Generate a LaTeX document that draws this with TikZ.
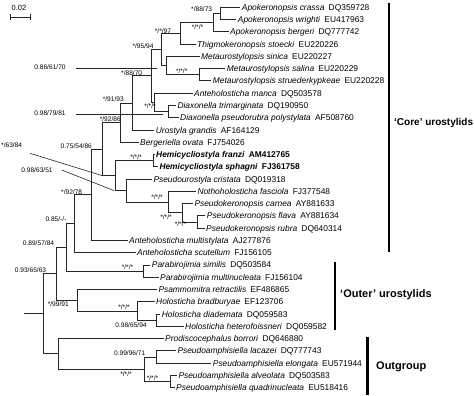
\documentclass[tikz,border=0pt]{standalone}
\usepackage{fontspec}
\setmainfont{Liberation Sans}
\begin{document}
\begin{tikzpicture}[x=1pt,y=-1pt,
  br/.style={line width=0.9pt, black!85, line cap=rect},
  leaf/.style={anchor=west, inner sep=0pt, font=\fontsize{8.4}{10}\selectfont, text height=6pt, text depth=0pt},
  supval/.style={inner sep=0pt, font=\fontsize{6.6}{8}\selectfont},
  ptr/.style={line width=0.6pt, black!85},
  cladelab/.style={anchor=west, inner sep=0pt, font=\bfseries\fontsize{11}{13}\selectfont},
  cbar/.style={line width=2.6pt}]
\useasboundingbox (0,0) rectangle (474,396);
\newcommand{\acc}{\hspace{0.5em}}
% leaves
\node[leaf] (l1) at (241.7,7.30) {\textit{Apokeronopsis crassa}\acc DQ359728};
\node[leaf] (l2) at (237.7,19.57) {\textit{Apokeronopsis wrighti}\acc EU417963};
\node[leaf] (l3) at (230,31.84) {\textit{Apokeronopsis bergeri}\acc DQ777742};
\node[leaf] (l4) at (197,44.11) {\textit{Thigmokeronopsis stoecki}\acc EU220226};
\node[leaf] (l5) at (201,56.38) {\textit{Metaurostylopsis sinica}\acc EU220227};
\node[leaf] (l6) at (226.7,68.65) {\textit{Metaurostylopsis salina}\acc EU220229};
\node[leaf] (l7) at (212.7,80.92) {\textit{Metaurostylopsis struederkypkeae}\acc EU220228};
\node[leaf] (l8) at (194,93.19) {\textit{Anteholosticha manca}\acc DQ503578};
\node[leaf] (l9) at (177.3,105.46) {\textit{Diaxonella trimarginata}\acc DQ190950};
\node[leaf] (l10) at (180,117.73) {\textit{Diaxonella pseudorubra polystylata}\acc AF508760};
\node[leaf] (l11) at (155.7,130.00) {\textit{Urostyla grandis}\acc AF164129};
\node[leaf] (l12) at (140,142.27) {\textit{Bergeriella ovata}\acc FJ754026};
\node[leaf] (l13) at (156,154.54) {\textbf{\textit{Hemicycliostyla franzi}\acc AM412765}};
\node[leaf] (l14) at (159.3,166.81) {\textbf{\textit{Hemicycliostyla sphagni}\acc FJ361758}};
\node[leaf] (l15) at (153.3,179.08) {\textit{Pseudourostyla cristata}\acc DQ019318};
\node[leaf] (l16) at (197.3,191.35) {\textit{Nothoholosticha fasciola}\acc FJ377548};
\node[leaf] (l17) at (194.3,203.62) {\textit{Pseudokeronopsis carnea}\acc AY881633};
\node[leaf] (l18) at (206.7,215.89) {\textit{Pseudokeronopsis flava}\acc AY881634};
\node[leaf] (l19) at (206,228.16) {\textit{Pseudokeronopsis rubra}\acc DQ640314};
\node[leaf] (l20) at (129,240.43) {\textit{Anteholosticha multistylata}\acc AJ277876};
\node[leaf] (l21) at (137,252.70) {\textit{Anteholosticha scutellum}\acc FJ156105};
\node[leaf] (l22) at (151.7,264.97) {\textit{Parabirojimia similis}\acc DQ503584};
\node[leaf] (l23) at (160,277.24) {\textit{Parabirojimia multinucleata}\acc FJ156104};
\node[leaf] (l24) at (158.3,289.51) {\textit{Psammomitra retractilis}\acc EF486865};
\node[leaf] (l25) at (156,301.78) {\textit{Holosticha bradburyae}\acc EF123706};
\node[leaf] (l26) at (161.7,314.05) {\textit{Holosticha diademata}\acc DQ059583};
\node[leaf] (l27) at (185,326.32) {\textit{Holosticha heterofoissneri}\acc DQ059582};
\node[leaf] (l28) at (165,338.59) {\textit{Prodiscocephalus borrori}\acc DQ646880};
\node[leaf] (l29) at (177.3,350.86) {\textit{Pseudoamphisiella lacazei}\acc DQ777743};
\node[leaf] (l30) at (212.7,363.13) {\textit{Pseudoamphisiella elongata}\acc EU571944};
\node[leaf] (l31) at (178.3,375.40) {\textit{Pseudoamphisiella alveolata}\acc DQ503583};
\node[leaf] (l32) at (176,387.67) {\textit{Pseudoamphisiella quadrinucleata}\acc EU518416};
% internal nodes
\coordinate (ncrw) at (220,13.44);
\coordinate (napo) at (213.3,22.64);
\coordinate (napot) at (180,33.37);
\coordinate (nss) at (199,74.79);
\coordinate (nmeta) at (166.7,65.58);
\coordinate (n161) at (161.7,49.48);
\coordinate (ndiax) at (168.3,111.6);
\coordinate (nmd) at (154,102.4);
\coordinate (n151) at (151.7,75.94);
\coordinate (n132) at (132.3,102.97);
\coordinate (n120) at (120,122.62);
\coordinate (nhemi) at (153.3,160.68);
\coordinate (nfr) at (197.3,222.03);
\coordinate (npk) at (182.7,212.82);
\coordinate (nnoth) at (168.3,202.09);
\coordinate (ncris) at (126.7,190.58);
\coordinate (nhc) at (115,175.63);
\coordinate (n102) at (102.7,149.13);
\coordinate (n92) at (91.7,194.78);
\coordinate (n74) at (74,223.74);
\coordinate (npara) at (143.3,271.1);
\coordinate (n66) at (66,247.42);
\coordinate (ndiad) at (156,320.19);
\coordinate (nbrad) at (137.3,310.98);
\coordinate (n77) at (77.3,300.25);
\coordinate (n56) at (56,273.83);
\coordinate (naa) at (156,357.0);
\coordinate (nab) at (170,381.54);
\coordinate (namph) at (144,369.27);
\coordinate (nout) at (58.3,353.93);
\coordinate (root) at (43.3,313.88);
\coordinate (stub) at (24,313.88);
% branches
\begin{scope}[br]
\draw (stub) -- (root);
\draw (root) |- (n56); \draw (root) |- (nout);
\draw (n56) |- (n66); \draw (n56) |- (n77);
\draw (n66) |- (n74); \draw (n66) |- (npara);
\draw (n74) |- (n92);
\draw (n92) |- (n102);
\draw (n102) |- (n120); \draw (n102) |- (nhc);
\draw (n120) |- (n132);
\draw (n132) |- (n151);
\draw (n151) |- (n161); \draw (n151) |- (nmd);
\draw (n161) |- (napot); \draw (n161) |- (nmeta);
\draw (napot) |- (napo);
\draw (napo) |- (ncrw);
\draw (nmeta) |- (nss);
\draw (nmd) |- (ndiax);
\draw (nhc) |- (nhemi); \draw (nhc) |- (ncris);
\draw (ncris) |- (nnoth);
\draw (nnoth) |- (npk);
\draw (npk) |- (nfr);
\draw (n77) |- (nbrad);
\draw (nbrad) |- (ndiad);
\draw (nout) |- (namph);
\draw (namph) |- (naa); \draw (namph) |- (nab);
\end{scope}
\begin{scope}[br, shorten >=1.8pt]
\draw (ncrw) |- (l1.west); \draw (ncrw) |- (l2.west);
\draw (napo) |- (l3.west);
\draw (napot) |- (l4.west);
\draw (nmeta) |- (l5.west);
\draw (nss) |- (l6.west); \draw (nss) |- (l7.west);
\draw (nmd) |- (l8.west);
\draw (ndiax) |- (l9.west); \draw (ndiax) |- (l10.west);
\draw (n132) |- (l11.west);
\draw (n120) |- (l12.west);
\draw (nhemi) |- (l13.west); \draw (nhemi) |- (l14.west);
\draw (ncris) |- (l15.west);
\draw (nnoth) |- (l16.west);
\draw (npk) |- (l17.west);
\draw (nfr) |- (l18.west); \draw (nfr) |- (l19.west);
\draw (n92) |- (l20.west);
\draw (n74) |- (l21.west);
\draw (npara) |- (l22.west); \draw (npara) |- (l23.west);
\draw (n77) |- (l24.west);
\draw (nbrad) |- (l25.west);
\draw (ndiad) |- (l26.west); \draw (ndiad) |- (l27.west);
\draw (nout) |- (l28.west);
\draw (naa) |- (l29.west); \draw (naa) |- (l30.west);
\draw (nab) |- (l31.west); \draw (nab) |- (l32.west);
\end{scope}
% support values
\node[supval] (s1) at (201.7,9.3) {*/88/73};
\node[supval] (s2) at (197.5,26.7) {*/*/*};
\node[supval] (s3) at (163,30.7) {*/*/97};
\node[supval] (s4) at (143,46) {*/95/94};
\node[supval] (s5) at (50,66.7) {0.86/61/70};
\node[supval] (s6) at (181.7,70.7) {*/*/*};
\node[supval] (s7) at (131.7,73.3) {*/88/70};
\node[supval] (s8) at (113.3,99.3) {*/91/93};
\node[supval] (s9) at (150,106) {*/*/*};
\node[supval] (s10) at (50,112.7) {0.98/79/81};
\node[supval] (s11) at (110.3,119.3) {*/92/86};
\node[supval] (s12) at (76.3,146) {0.75/54/86};
\node[supval] (s13) at (11.7,145) {*/63/84};
\node[supval] (s14) at (136,157) {*/*/*};
\node[supval] (s15) at (37,170) {0.98/63/51};
\node[supval] (s16) at (71.7,191.7) {*/92/78};
\node[supval] (s17) at (157,197) {*/*/*};
\node[supval] (s18) at (166,217) {*/*/*};
\node[supval] (s19) at (180.5,224) {*/*/*};
\node[supval] (s20) at (56,219.3) {0.85/-/-};
\node[supval] (s21) at (38.5,243) {0.89/57/84};
\node[supval] (s22) at (127.5,267.3) {*/*/*};
\node[supval] (s23) at (30.5,270) {0.93/65/63};
\node[supval] (s24) at (58.3,304) {*/99/91};
\node[supval] (s25) at (124,307.5) {*/*/*};
\node[supval] (s26) at (131,325) {0.98/65/94};
\node[supval] (s27) at (129.7,352.7) {0.99/96/71};
\node[supval] (s28) at (126,374) {*/*/*};
\node[supval] (s29) at (152.5,378) {*/*/*};
% pointer lines
\coordinate (p1a) at (76,68); \coordinate (p1b) at (157,68);
\coordinate (p2a) at (76,114); \coordinate (p2b) at (163,114);
\coordinate (p3a) at (30,153.3); \coordinate (p3b) at (102,175.6);
\coordinate (p4a) at (61.7,170); \coordinate (p4b) at (114,190.6);
\draw[ptr] (p1a) -- (p1b);
\draw[ptr] (p2a) -- (p2b);
\draw[ptr] (p3a) -- (p3b);
\draw[ptr] (p4a) -- (p4b);
% scale bar
\node[supval, font=\fontsize{7.5}{9}\selectfont] (scl) at (19,8) {0.02};
\coordinate (sba) at (10,17); \coordinate (sbb) at (30.7,17);
\draw[br, line cap=butt] (sba) -- (sbb);
\draw[br, line cap=butt] ([yshift=-3pt]sba) -- ([yshift=3pt]sba);
\draw[br, line cap=butt] ([yshift=-3pt]sbb) -- ([yshift=3pt]sbb);
% clade bars
\coordinate (cora) at (389,3); \coordinate (corb) at (389,252);
\coordinate (outa) at (335,262); \coordinate (outb) at (335,330);
\coordinate (ogra) at (367.7,337); \coordinate (ogrb) at (367.7,395);
\draw[cbar] (cora) -- (corb);
\draw[cbar] (outa) -- (outb);
\draw[cbar] (ogra) -- (ogrb);
\node[cladelab, font=\bfseries\fontsize{10}{12}\selectfont] (core) at (394,123) {`Core' urostylids};
\node[cladelab] (outer) at (340,295) {`Outer' urostylids};
\node[cladelab] (outg) at (376,367) {Outgroup};
\end{tikzpicture}
\end{document}
